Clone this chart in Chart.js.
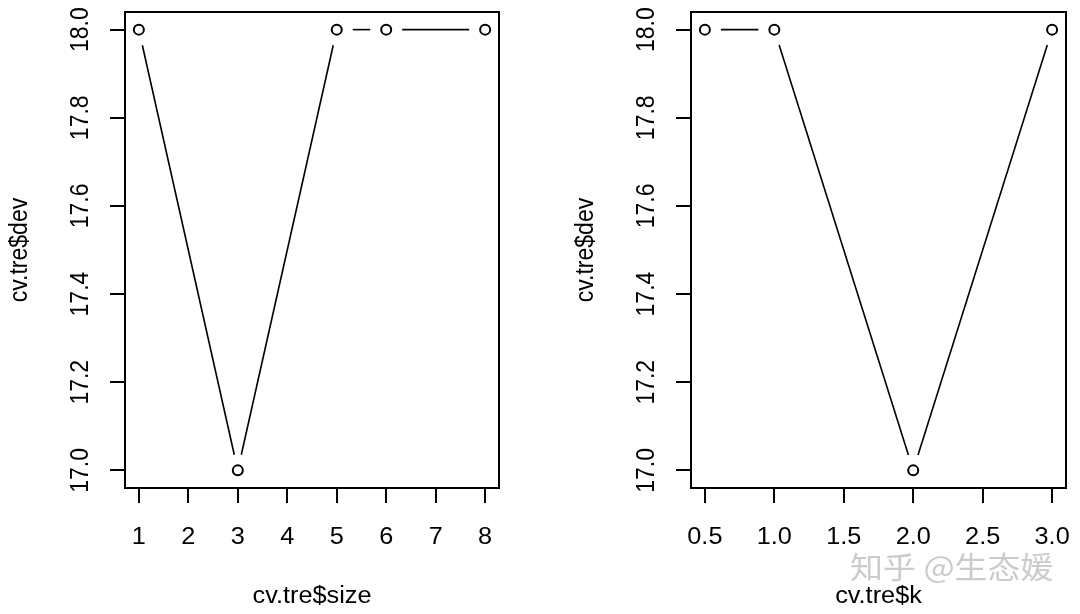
<!DOCTYPE html>
<html>
<head>
<meta charset="utf-8">
<script src="https://cdn.jsdelivr.net/npm/chart.js@4/dist/chart.umd.min.js"></script>
<style>
  body { margin: 0; background: #fff; }
  #wrap { position: relative; width: 1080px; height: 614px; overflow: hidden; }
  canvas { position: absolute; top: 0; }
  #size_chart { left: 0; }
  #k_chart { left: 540px; }
  #mark {
    position: absolute; left: 850px; top: 543px;
    font: 30px "Noto Sans CJK SC", sans-serif;
    color: rgba(140, 140, 140, 0.45);
    white-space: nowrap;
    transform: scaleX(1.1);
    transform-origin: left top;
  }
</style>
</head>
<body>
<div id="wrap">
  <canvas id="size_chart" width="540" height="614"></canvas>
  <canvas id="k_chart" width="540" height="614"></canvas>
  <div id="mark">知乎 @生态媛</div>
</div>
<script>
// values
const sizeVals = [1, 3, 5, 6, 8];
const sizeDev = [18, 17, 18, 18, 18];
const kVals = [0.5, 1.0, 2.0, 3.0];
const kDev = [18, 18, 17, 18];

const sizeTickLabels = ['1', '2', '3', '4', '5', '6', '7', '8'];
const kTickLabels = ['0.5', '1.0', '1.5', '2.0', '2.5', '3.0'];
const devTickLabels = ['17.0', '17.2', '17.4', '17.6', '17.8', '18.0'];

const FONT = '23px "Liberation Sans", Arial, sans-serif';
const STRETCH = 1.1;   // the source image is a little wider than tall

// R pads the data range by 4% on each side
function rRange(vals) {
    const lo = Math.min(...vals), hi = Math.max(...vals);
    const pad = (hi - lo) * 0.04;
    return [lo - pad, hi + pad];
}

function makeRPlot(xLabels, yLabels, xTitle, yTitle)
{
    function flat(ctx, text, x, y) {
        ctx.save();
        ctx.translate(x, y);
        ctx.scale(STRETCH, 1);
        ctx.fillText(text, 0, 0);
        ctx.restore();
    }
    function upright(ctx, text, x, y) {
        ctx.save();
        ctx.translate(x, y);
        ctx.rotate(-Math.PI / 2);
        ctx.scale(1, STRETCH);
        ctx.fillText(text, 0, 0);
        ctx.restore();
    }
    return {
        id: 'rPlot',
        beforeDatasetsDraw(chart) {
            // type = "b": segments with a gap round each point
            const pts = chart.getDatasetMeta(0).data;
            const ctx = chart.ctx;
            const gap = 16;
            ctx.save();
            ctx.strokeStyle = '#000';
            ctx.lineWidth = 1.6;
            for (let i = 0; i < pts.length - 1; i++) {
                const a = pts[i], b = pts[i + 1];
                const dx = b.x - a.x, dy = b.y - a.y;
                const len = Math.hypot(dx, dy);
                if (len <= 2 * gap) continue;
                const ux = dx / len, uy = dy / len;
                ctx.beginPath();
                ctx.moveTo(a.x + ux * gap, a.y + uy * gap);
                ctx.lineTo(b.x - ux * gap, b.y - uy * gap);
                ctx.stroke();
            }
            ctx.restore();
        },
        afterDraw(chart) {
            const ctx = chart.ctx;
            const area = chart.chartArea;
            const xs = chart.scales.x, ys = chart.scales.y;
            ctx.save();
            ctx.strokeStyle = '#000';
            ctx.lineWidth = 2;
            ctx.strokeRect(area.left, area.top, area.right - area.left, area.bottom - area.top);

            ctx.fillStyle = '#000';
            ctx.font = FONT;
            ctx.textAlign = 'center';
            ctx.textBaseline = 'middle';
            xLabels.forEach(l => {
                flat(ctx, l, xs.getPixelForValue(parseFloat(l)), area.bottom + 50);
            });
            yLabels.forEach(l => {
                upright(ctx, l, area.left - 44, ys.getPixelForValue(parseFloat(l)));
            });
            flat(ctx, xTitle, (area.left + area.right) / 2, 597);
            upright(ctx, yTitle, area.left - 105, (area.top + area.bottom) / 2);
            ctx.restore();
        }
    };
}

function rChart(id, xVals, yVals, xLabels, xTitle, yAxisWidth, padRight)
{
    const [xMin, xMax] = rRange(xVals);
    const [yMin, yMax] = rRange(yVals);
    const xTicks = xLabels.map(parseFloat);
    const yTicks = devTickLabels.map(parseFloat);
    const tickGrid = { drawOnChartArea: false, drawTicks: true, tickLength: 15, color: '#000', lineWidth: 2 };

    return new Chart(document.getElementById(id), {
        type: 'scatter',
        data: {
            datasets: [{
                data: xVals.map((x, i) => ({ x: x, y: yVals[i] })),
                showLine: false,
                pointStyle: 'circle',
                pointRadius: 5,
                pointBorderWidth: 2,
                pointBorderColor: '#000',
                pointBackgroundColor: '#fff'
            }]
        },
        options: {
            responsive: false,
            animation: false,
            layout: { padding: { left: 0, right: padRight, top: 12, bottom: 0 } },
            plugins: { legend: { display: false }, tooltip: { enabled: false } },
            scales: {
                x: {
                    type: 'linear', min: xMin, max: xMax, bounds: 'data',
                    afterBuildTicks: s => { s.ticks = xTicks.map(v => ({ value: v })); },
                    afterFit: s => { s.height = 126; },
                    ticks: { display: false },
                    grid: tickGrid,
                    border: { display: false }
                },
                y: {
                    type: 'linear', min: yMin, max: yMax, bounds: 'data',
                    afterBuildTicks: s => { s.ticks = yTicks.map(v => ({ value: v })); },
                    afterFit: s => { s.width = yAxisWidth; },
                    ticks: { display: false },
                    grid: tickGrid,
                    border: { display: false }
                }
            }
        },
        plugins: [makeRPlot(xLabels, devTickLabels, xTitle, 'cv.tre$dev')]
    });
}

(function size_chart()
{
    rChart('size_chart', sizeVals, sizeDev, sizeTickLabels, 'cv.tre$size', 125, 41);
})();

(function k_chart()
{
    rChart('k_chart', kVals, kDev, kTickLabels, 'cv.tre$k', 151, 14);
})();
</script>
</body>
</html>
